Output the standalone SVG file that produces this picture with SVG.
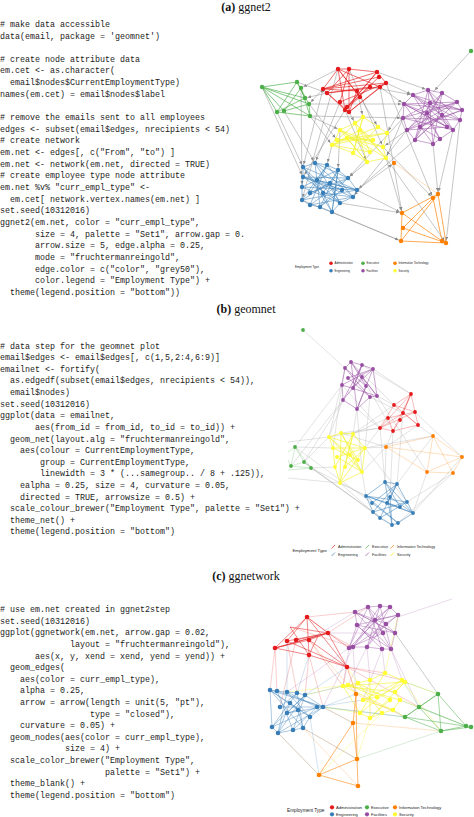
<svg xmlns="http://www.w3.org/2000/svg" width="474" height="817" viewBox="0 0 474 817">
<style>
.code{font-family:"Liberation Mono","DejaVu Sans Mono",monospace;font-size:8.33px;fill:#1a1a1a}
.cap{font-family:"Liberation Serif","DejaVu Serif",serif;font-size:12px;fill:#111}
.lg{font-family:"Liberation Sans",Lato,Arial,sans-serif;fill:#222}
.ga{stroke:#8c8c8c;stroke-width:0.5;fill:none;marker-end:url(#arrG)}
.gb{stroke:#b5b5b5;stroke-width:0.45;fill:none;opacity:0.85}
.ra{stroke:#E41A1C;stroke-width:0.8;fill:none;opacity:0.8}
.ba{stroke:#377EB8;stroke-width:0.7;fill:none;opacity:0.75}
.pa{stroke:#984EA3;stroke-width:0.7;fill:none;opacity:0.75}
.ya{stroke:#F2F230;stroke-width:0.8;fill:none;opacity:0.85}
.oa{stroke:#FF7F00;stroke-width:0.8;fill:none;opacity:0.85}
.na{stroke:#4DAF4A;stroke-width:0.8;fill:none;opacity:0.85}
.thin{stroke-width:0.5;opacity:0.5}
.lt{stroke-width:0.55;opacity:0.4}
.red{fill:#E41A1C}.blue{fill:#377EB8}.grn{fill:#4DAF4A}.pur{fill:#984EA3}.org{fill:#FF7F00}.yel{fill:#FFFF33}
</style>
<defs>
<marker id="arrG" viewBox="0 0 10 10" refX="19" refY="5" markerWidth="3.2" markerHeight="3.2" markerUnits="userSpaceOnUse" orient="auto"><path d="M0 0L10 5L0 10z" fill="#8a8a8a"/></marker>
</defs>
<rect width="474" height="817" fill="#ffffff"/>

<!-- captions -->
<g id="captions">
<text class="cap" x="246" y="10.5" text-anchor="middle"><tspan font-weight="bold">(a)</tspan> ggnet2</text>
<text class="cap" x="246" y="312.5" text-anchor="middle"><tspan font-weight="bold">(b)</tspan> geomnet</text>
<text class="cap" x="246" y="579.5" text-anchor="middle"><tspan font-weight="bold">(c)</tspan> ggnetwork</text>
</g>

<!-- code (a) -->
<g id="code-a" class="code">
<text x="0" y="26.8"># make data accessible</text>
<text x="0" y="38.5">data(email, package = 'geomnet')</text>
<text x="0" y="61.8"># create node attribute data</text>
<text x="0" y="73.4">em.cet &lt;- as.character(</text>
<text x="10" y="85.1">email$nodes$CurrentEmploymentType)</text>
<text x="0" y="96.8">names(em.cet) = email$nodes$label</text>
<text x="0" y="120.1"># remove the emails sent to all employees</text>
<text x="0" y="131.7">edges &lt;- subset(email$edges, nrecipients &lt; 54)</text>
<text x="0" y="143.4"># create network</text>
<text x="0" y="155.1">em.net &lt;- edges[, c("From", "to") ]</text>
<text x="0" y="166.7">em.net &lt;- network(em.net, directed = TRUE)</text>
<text x="0" y="178.4"># create employee type node attribute</text>
<text x="0" y="190.1">em.net %v% "curr_empl_type" &lt;-</text>
<text x="10" y="201.7">em.cet[ network.vertex.names(em.net) ]</text>
<text x="0" y="213.4">set.seed(10312016)</text>
<text x="0" y="225.0">ggnet2(em.net, color = "curr_empl_type",</text>
<text x="35" y="236.7">size = 4, palette = "Set1", arrow.gap = 0.</text>
<text x="35" y="248.4">arrow.size = 5, edge.alpha = 0.25,</text>
<text x="35" y="260.0">mode = "fruchtermanreingold",</text>
<text x="35" y="271.7">edge.color = c("color", "grey50"),</text>
<text x="35" y="283.4">color.legend = "Employment Type") +</text>
<text x="10" y="295.0">theme(legend.position = "bottom"))</text>
</g>

<!-- code (b) -->
<g id="code-b" class="code">
<text x="0" y="348.5"># data step for the geomnet plot</text>
<text x="0" y="360.1">email$edges &lt;- email$edges[, c(1,5,2:4,6:9)]</text>
<text x="0" y="371.7">emailnet &lt;- fortify(</text>
<text x="10" y="383.4">as.edgedf(subset(email$edges, nrecipients &lt; 54)),</text>
<text x="10" y="395.0">email$nodes)</text>
<text x="0" y="406.6">set.seed(10312016)</text>
<text x="0" y="418.2">ggplot(data = emailnet,</text>
<text x="35" y="429.8">aes(from_id = from_id, to_id = to_id)) +</text>
<text x="10" y="441.5">geom_net(layout.alg = "fruchtermanreingold",</text>
<text x="20" y="453.1">aes(colour = CurrentEmploymentType,</text>
<text x="40" y="464.7">group = CurrentEmploymentType,</text>
<text x="40" y="476.3">linewidth = 3 * (...samegroup.. / 8 + .125)),</text>
<text x="20" y="487.9">ealpha = 0.25, size = 4, curvature = 0.05,</text>
<text x="20" y="499.6">directed = TRUE, arrowsize = 0.5) +</text>
<text x="10" y="511.2">scale_colour_brewer("Employment Type", palette = "Set1") +</text>
<text x="10" y="522.8">theme_net() +</text>
<text x="10" y="534.4">theme(legend.position = "bottom")</text>
</g>

<!-- code (c) -->
<g id="code-c" class="code">
<text x="0" y="612.0"># use em.net created in ggnet2step</text>
<text x="0" y="623.6">set.seed(10312016)</text>
<text x="0" y="635.2">ggplot(ggnetwork(em.net, arrow.gap = 0.02,</text>
<text x="70" y="646.9">layout = "fruchtermanreingold"),</text>
<text x="35" y="658.5">aes(x, y, xend = xend, yend = yend)) +</text>
<text x="10" y="670.1">geom_edges(</text>
<text x="20" y="681.7">aes(color = curr_empl_type),</text>
<text x="20" y="693.3">alpha = 0.25,</text>
<text x="20" y="705.0">arrow = arrow(length = unit(5, "pt"),</text>
<text x="90" y="716.6">type = "closed"),</text>
<text x="20" y="728.2">curvature = 0.05) +</text>
<text x="10" y="739.8">geom_nodes(aes(color = curr_empl_type),</text>
<text x="65" y="751.4">size = 4) +</text>
<text x="10" y="763.1">scale_color_brewer("Employment Type",</text>
<text x="105" y="774.7">palette = "Set1") +</text>
<text x="10" y="786.3">theme_blank() +</text>
<text x="10" y="797.9">theme(legend.position = "bottom")</text>
</g>

<!-- ===== plot (a) ggnet2 ===== -->
<g id="plot-a">
<g id="a-connectors">
<path class="ga" d="M471 51L433 92"/>
<path class="ga" d="M323 89L309 104"/>
<path class="ga" d="M338 69L301 88"/>
<path class="ga" d="M327 93L305 98"/>
<path class="ga" d="M386 83L413 95"/>
<path class="ga" d="M380 87L404 104"/>
<path class="ga" d="M377 72L428 90"/>
<path class="ga" d="M349 112L355 123"/>
<path class="ga" d="M360 97L378 127"/>
<path class="ga" d="M357 91L363 117"/>
<path class="ga" d="M323 89L303 167"/>
<path class="ga" d="M340 102L315 163"/>
<path class="ga" d="M345 110L303 177"/>
<path class="ga" d="M380 87L402 213"/>
<path class="ga" d="M310 116L340 130"/>
<path class="ga" d="M309 104L337 140"/>
<path class="ga" d="M309 104L404 104"/>
<path class="ga" d="M310 116L403 118"/>
<path class="ga" d="M277 112L303 167"/>
<path class="ga" d="M284 111L315 163"/>
<path class="ga" d="M262 87L303 177"/>
<path class="ga" d="M301 88L302 187"/>
<path class="ga" d="M404 104L387 133"/>
<path class="ga" d="M407 130L383 147"/>
<path class="ga" d="M403 118L348 178"/>
<path class="ga" d="M415 140L357 190"/>
<path class="ga" d="M433 144L438 194"/>
<path class="ga" d="M453 130L438 194"/>
<path class="ga" d="M460 120L446 243"/>
<path class="ga" d="M332 145L327 165"/>
<path class="ga" d="M367 162L348 178"/>
<path class="ga" d="M386 158L402 213"/>
<path class="ga" d="M383 147L433 198"/>
<path class="ga" d="M340 203L402 213"/>
<path class="ga" d="M332 212L401 241"/>
<path class="ga" d="M357 190L394 163"/>
<path class="ga" d="M357 190L402 213"/>
<path class="ga" d="M345 110L367 162"/>
<path class="ga" d="M349 69L383 147"/>
<path class="ga" d="M386 83L433 198"/>
<path class="ga" d="M302 200L401 241"/>
<path class="ga" d="M407 130L353 197"/>
<path class="ga" d="M370 87L413 95"/>
<path class="ga" d="M386 158L446 243"/>
<path class="ga" d="M338 69L302 200"/>
<path class="ga" d="M297 82L327 93"/>
<path class="ga" d="M403 118L386 158"/>
<path class="ga" d="M340 130L338 170"/>
<path class="ga" d="M310 116L332 145"/>
<path d="M394 163L438 194" stroke="#FF7F00" stroke-width="0.5" opacity="0.5" fill="none"/>
<path class="na" d="M262 87L297 82L309 104L310 116L277 112L262 87L309 104M262 87L310 116M297 82L277 112M284 111L309 104M301 88L284 111M262 87L305 98M301 88L310 116M297 82L305 98M262 87L284 111M277 112L305 98"/>
<path class="ra" d="M323 89L338 69L349 69L377 72L386 83L380 87L349 112L345 110L323 89L377 72M338 69L380 87M338 69L345 110M349 69L349 112M377 72L345 110M379 77L347 107M386 83L340 102M323 89L357 91M327 93L370 87M357 91L349 112M360 97L345 110M370 87L347 107M340 102L349 69M327 93L349 112M379 77L323 89M347 107L377 72M360 97L338 69M386 83L349 112M327 93L380 87M323 89L386 83M338 69L360 97M349 69L327 93"/>
<path class="pa" d="M404 104L413 95L428 90L442 93L457 102L462 110L460 120L453 130L440 139L433 144L415 140L407 130L403 118L404 104M404 104L457 102M404 104L453 130M404 104L433 144M413 95L460 120M413 95L440 139M428 90L453 130M428 90L415 140M442 93L407 130M442 93L433 144M457 102L403 118M457 102L415 140M462 110L407 130M462 110L404 104M460 120L403 118M453 130L403 118M427 113L404 104M427 113L457 102M427 113L440 139M427 113L407 130M442 115L413 95M442 115L460 120M442 115L415 140M420 127L442 93M420 127L462 110M420 127L440 139M447 127L404 104M447 127L428 90M447 127L407 130M430 103L453 130M430 103L415 140M430 103L462 110M430 103L403 118M427 113L447 127M442 115L420 127M413 95L453 130M428 90L433 144M442 93L415 140M457 102L407 130M462 110L413 95M460 120L428 90"/>
<path class="ya" d="M332 145L340 130L355 123L363 117L378 127L387 133L383 147L386 158L367 162L353 153L332 145M332 145L378 127M332 145L387 133M340 130L383 147M340 130L386 158M355 123L367 162M363 117L353 153M378 127L353 153M387 133L337 140M383 147L347 138M386 158L355 123M367 162L340 130M353 153L363 117M347 138L373 140M360 130L370 152M337 140L373 140M360 130L332 145M360 130L386 158M370 152L340 130M347 138L367 162M373 140L355 123M337 140L363 117M370 152L332 145"/>
<path class="ba" d="M303 167L315 163L327 165L338 170L348 178L357 190L353 197L340 203L332 212L320 207L310 205L302 200L302 187L303 177L303 167M303 167L357 190M303 167L340 203M303 167L332 212M315 163L353 197M315 163L320 207M327 165L310 205M327 165L302 200M338 170L302 187M338 170L332 212M348 178L303 177M348 178L310 205M357 190L302 200M353 197L303 177M340 203L315 163M332 212L338 170M320 207L348 178M317 180L357 190M317 180L332 212M330 183L302 200M330 183L340 203M323 193L338 170M323 193L303 167M342 190L303 177M342 190L320 207M310 193L348 178M310 193L327 165M317 180L342 190M330 183L310 193M323 193L353 197M302 187L357 190M303 177L340 203M315 163L348 178M327 165L353 197M338 170L320 207M302 187L340 203M303 177L357 190M310 205L353 197"/>
<path class="oa" d="M402 213L438 194L446 243L401 241L402 213M402 213L442 241M401 241L438 194M403 228L433 198M433 198L442 241M403 228L446 243"/>
</g>
<g id="a-nodes">
<g id="a-executive" class="grn"><circle cx="262" cy="87" r="2.2"/><circle cx="297" cy="82" r="2.2"/><circle cx="301" cy="88" r="2.2"/><circle cx="309" cy="104" r="2.2"/><circle cx="310" cy="116" r="2.2"/><circle cx="277" cy="112" r="2.2"/><circle cx="284" cy="111" r="2.2"/><circle cx="305" cy="98" r="2.2"/><circle cx="471" cy="51" r="2.2"/></g>
<g id="a-administration" class="red"><circle cx="323" cy="89" r="2.2"/><circle cx="327" cy="93" r="2.2"/><circle cx="338" cy="69" r="2.2"/><circle cx="349" cy="69" r="2.2"/><circle cx="377" cy="72" r="2.2"/><circle cx="379" cy="77" r="2.2"/><circle cx="386" cy="83" r="2.2"/><circle cx="380" cy="87" r="2.2"/><circle cx="357" cy="91" r="2.2"/><circle cx="360" cy="97" r="2.2"/><circle cx="345" cy="110" r="2.2"/><circle cx="349" cy="112" r="2.2"/><circle cx="347" cy="107" r="2.2"/><circle cx="340" cy="102" r="2.2"/><circle cx="370" cy="87" r="2.2"/></g>
<g id="a-facilities" class="pur"><circle cx="404" cy="104" r="2.2"/><circle cx="413" cy="95" r="2.2"/><circle cx="428" cy="90" r="2.2"/><circle cx="442" cy="93" r="2.2"/><circle cx="457" cy="102" r="2.2"/><circle cx="462" cy="110" r="2.2"/><circle cx="460" cy="120" r="2.2"/><circle cx="453" cy="130" r="2.2"/><circle cx="440" cy="139" r="2.2"/><circle cx="433" cy="144" r="2.2"/><circle cx="415" cy="140" r="2.2"/><circle cx="407" cy="130" r="2.2"/><circle cx="403" cy="118" r="2.2"/><circle cx="427" cy="113" r="2.2"/><circle cx="442" cy="115" r="2.2"/><circle cx="420" cy="127" r="2.2"/><circle cx="447" cy="127" r="2.2"/><circle cx="430" cy="103" r="2.2"/></g>
<g id="a-security" class="yel"><circle cx="332" cy="145" r="2.2"/><circle cx="340" cy="130" r="2.2"/><circle cx="355" cy="123" r="2.2"/><circle cx="363" cy="117" r="2.2"/><circle cx="378" cy="127" r="2.2"/><circle cx="387" cy="133" r="2.2"/><circle cx="383" cy="147" r="2.2"/><circle cx="386" cy="158" r="2.2"/><circle cx="367" cy="162" r="2.2"/><circle cx="353" cy="153" r="2.2"/><circle cx="347" cy="138" r="2.2"/><circle cx="373" cy="140" r="2.2"/><circle cx="360" cy="130" r="2.2"/><circle cx="337" cy="140" r="2.2"/><circle cx="370" cy="152" r="2.2"/></g>
<g id="a-engineering" class="blue"><circle cx="303" cy="167" r="2.2"/><circle cx="315" cy="163" r="2.2"/><circle cx="327" cy="165" r="2.2"/><circle cx="338" cy="170" r="2.2"/><circle cx="348" cy="178" r="2.2"/><circle cx="357" cy="190" r="2.2"/><circle cx="353" cy="197" r="2.2"/><circle cx="340" cy="203" r="2.2"/><circle cx="332" cy="212" r="2.2"/><circle cx="320" cy="207" r="2.2"/><circle cx="310" cy="205" r="2.2"/><circle cx="302" cy="200" r="2.2"/><circle cx="302" cy="187" r="2.2"/><circle cx="303" cy="177" r="2.2"/><circle cx="317" cy="180" r="2.2"/><circle cx="330" cy="183" r="2.2"/><circle cx="323" cy="193" r="2.2"/><circle cx="342" cy="190" r="2.2"/><circle cx="310" cy="193" r="2.2"/></g>
<g id="a-it" class="org"><circle cx="394" cy="163" r="2.2"/><circle cx="438" cy="194" r="2.2"/><circle cx="433" cy="198" r="2.2"/><circle cx="402" cy="213" r="2.2"/><circle cx="403" cy="228" r="2.2"/><circle cx="401" cy="241" r="2.2"/><circle cx="442" cy="241" r="2.2"/><circle cx="446" cy="243" r="2.2"/></g>
</g>
<g id="a-legend" class="lg" font-size="2.9">
<text x="295" y="268.2" font-size="3">Employment Type</text>
<circle class="red" cx="331" cy="263.3" r="1.8"/><text x="334.5" y="264.3">Administration</text>
<circle class="grn" cx="363" cy="263.3" r="1.8"/><text x="366.5" y="264.3">Executive</text>
<circle class="org" cx="395" cy="263.3" r="1.8"/><text x="398.5" y="264.3">Information Technology</text>
<circle class="blue" cx="331" cy="270.7" r="1.8"/><text x="334.5" y="271.7">Engineering</text>
<circle class="pur" cx="363" cy="270.7" r="1.8"/><text x="366.5" y="271.7">Facilities</text>
<circle class="yel" cx="395" cy="270.7" r="1.8"/><text x="398.5" y="271.7">Security</text>
</g>
</g>

<!-- ===== plot (b) geomnet ===== -->
<g id="plot-b">
<g id="b-connectors">
<path class="gb" d="M303 330L345 368M343 400L329 437M342 385L333 448M357 409L353 434M370 397L365 448M357 409L380 428M377 396L394 405M373 369L411 394M370 397L403 413M342 385L295 447M343 400L304 462M380 428L365 448M393 431L386 447M388 418L353 434M418 425L433 436M415 412L462 457M380 428L341 433M386 447L365 448M386 447L362 472M386 447L385 482M427 472L413 513M433 436L397 484M453 473L407 502M362 472L366 496M340 483L366 496M340 483L373 512M335 467L311 468M333 448L295 447M329 437L304 462M311 468L366 496M304 462L373 512M295 447L372 503M393 431L390 497M403 413L397 484M380 428L385 482M362 377L393 431M345 368L329 437M357 409L362 472M377 396L427 472M386 447L418 425M365 448L433 436M353 434L394 405M362 365L411 394M351 362L394 405M342 385L380 428M311 468L392 525M304 462L380 518M365 448L407 502M341 433L386 447M329 437L380 428M453 473L398 523M462 457L413 513M343 400L291 466M288 442L329 437M288 478L340 483"/>
<path class="pa" d="M351 362L362 365L373 369L377 396L370 397L357 409L343 400L342 385L345 368L351 362M351 362L377 396M351 362L357 409M362 365L343 400M373 369L342 385M373 369L357 409M345 368L370 397M342 385L377 396M353 388L373 369M353 388L362 365M362 377L343 400M362 377L377 396M348 378L370 397M348 378L373 369M366 386L345 368M366 386L357 409M351 362L366 386M362 365L353 388"/>
<path class="ra thin" style="opacity:0.6" d="M411 394L394 405L380 428L393 431L418 425L415 412L411 394M411 394L403 413M411 394L393 431M394 405L415 412M394 405L418 425M380 428L415 412M403 413L380 428M403 413L418 425M400 420L411 394M388 418L415 412M388 418L393 431M400 420L393 431M380 428L411 394"/>
<path class="oa thin" d="M386 447L433 436L462 457L453 473L427 472L433 436M386 447L427 472M433 436L453 473M462 457L427 472M386 447L462 457"/>
<path class="na thin" d="M295 447L304 462L311 468L291 466L295 447M295 447L311 468M304 462L291 466M295 447L288 452M291 466L288 460M311 468L288 470"/>
<path class="ya" d="M329 437L341 433L353 434L365 448L362 472L340 483L335 467L333 448L329 437M329 437L365 448M329 437L362 472M341 433L362 472M341 433L340 483M353 434L335 467M353 434L340 483M365 448L333 448M365 448L340 483M350 455L329 437M350 455L362 472M358 460L333 448M358 460L341 433M345 467L353 434M337 457L365 448M337 457L362 472M345 467L365 448"/>
<path class="ba" d="M366 496L385 482L397 484L407 502L413 513L398 523L392 525L380 518L373 512L366 496M366 496L413 513M366 496L398 523M385 482L392 525M385 482L413 513M397 484L380 518M397 484L372 503M407 502L373 512M407 502L366 496M390 497L392 525M390 497L413 513M400 507L366 496M400 507L385 482M387 503L397 484M387 503L413 513M372 503L398 523M380 518L407 502M373 512L397 484"/>
</g>
<g id="b-nodes">
<g id="b-facilities" class="pur"><circle cx="351" cy="362" r="1.9"/><circle cx="362" cy="365" r="1.9"/><circle cx="373" cy="369" r="1.9"/><circle cx="345" cy="368" r="1.9"/><circle cx="342" cy="385" r="1.9"/><circle cx="343" cy="400" r="1.9"/><circle cx="357" cy="409" r="1.9"/><circle cx="370" cy="397" r="1.9"/><circle cx="377" cy="396" r="1.9"/><circle cx="353" cy="388" r="1.9"/><circle cx="362" cy="377" r="1.9"/><circle cx="348" cy="378" r="1.9"/><circle cx="366" cy="386" r="1.9"/></g>
<g id="b-administration" class="red"><circle cx="411" cy="394" r="1.9"/><circle cx="394" cy="405" r="1.9"/><circle cx="415" cy="412" r="1.9"/><circle cx="403" cy="413" r="1.9"/><circle cx="380" cy="428" r="1.9"/><circle cx="393" cy="431" r="1.9"/><circle cx="418" cy="425" r="1.9"/><circle cx="400" cy="420" r="1.9"/><circle cx="388" cy="418" r="1.9"/></g>
<g id="b-it" class="org"><circle cx="386" cy="447" r="1.9"/><circle cx="433" cy="436" r="1.9"/><circle cx="462" cy="457" r="1.9"/><circle cx="453" cy="473" r="1.9"/><circle cx="427" cy="472" r="1.9"/></g>
<g id="b-executive" class="grn"><circle cx="303" cy="330" r="1.9"/><circle cx="295" cy="447" r="1.9"/><circle cx="304" cy="462" r="1.9"/><circle cx="311" cy="468" r="1.9"/><circle cx="291" cy="466" r="1.9"/></g>
<g id="b-security" class="yel"><circle cx="329" cy="437" r="1.9"/><circle cx="341" cy="433" r="1.9"/><circle cx="353" cy="434" r="1.9"/><circle cx="365" cy="448" r="1.9"/><circle cx="362" cy="472" r="1.9"/><circle cx="340" cy="483" r="1.9"/><circle cx="335" cy="467" r="1.9"/><circle cx="333" cy="448" r="1.9"/><circle cx="345" cy="467" r="1.9"/><circle cx="350" cy="455" r="1.9"/><circle cx="358" cy="460" r="1.9"/><circle cx="337" cy="457" r="1.9"/></g>
<g id="b-engineering" class="blue"><circle cx="366" cy="496" r="1.9"/><circle cx="372" cy="503" r="1.9"/><circle cx="385" cy="482" r="1.9"/><circle cx="397" cy="484" r="1.9"/><circle cx="407" cy="502" r="1.9"/><circle cx="413" cy="513" r="1.9"/><circle cx="398" cy="523" r="1.9"/><circle cx="392" cy="525" r="1.9"/><circle cx="380" cy="518" r="1.9"/><circle cx="373" cy="512" r="1.9"/><circle cx="390" cy="497" r="1.9"/><circle cx="400" cy="507" r="1.9"/><circle cx="387" cy="503" r="1.9"/></g>
</g>
<g id="b-legend" class="lg" font-size="3.7">
<text x="292.5" y="552.2" font-size="4.3">Employment Type</text>
<path d="M331.5 548.5L335 545" stroke="#E41A1C" stroke-width="0.7"/><text x="338" y="548">Administration</text>
<path d="M365.5 548.5L369 545" stroke="#4DAF4A" stroke-width="0.7"/><text x="372" y="548">Executive</text>
<path d="M390.5 548.5L394 545" stroke="#FF7F00" stroke-width="0.7"/><text x="397" y="548">Information Technology</text>
<path d="M331.5 556L335 552.5" stroke="#377EB8" stroke-width="0.7"/><text x="338" y="555.5">Engineering</text>
<path d="M365.5 556L369 552.5" stroke="#984EA3" stroke-width="0.7"/><text x="372" y="555.5">Facilities</text>
<path d="M390.5 556L394 552.5" stroke="#F2F230" stroke-width="0.9"/><text x="397" y="555.5">Security</text>
</g>
</g>

<!-- ===== plot (c) ggnetwork ===== -->
<g id="plot-c">
<g id="c-connectors">
<path class="ra lt" d="M307 617L355 612M328 633L353 647M347 667L343 686M347 667L356 694M347 667L385 673M275 648L277 691M287 641L297 693M309 655L305 695M309 655L323 707M347 667L419 707M328 633L349 648M307 617L349 648M275 648L270 690M347 667L402 680M309 640L343 686M290 627L353 647M296 640L280 707M328 633L368 607"/>
<path class="ra" style="opacity:0.65" d="M307 617L328 633L347 667L309 655L275 648L307 617M307 617L309 655M307 617L287 641M328 633L275 648M328 633L309 640M309 640L347 667M287 641L347 667M296 640L328 633M318 636L275 648M318 636L309 655M290 627L328 633M290 627L309 655M309 640L275 648M287 641L328 633M307 617L347 667"/>
<path class="pa lt" d="M349 648L343 686M367 647L370 680M382 649L385 673M391 649L402 680M353 647L356 694M395 633L438 694M398 617L452 599M349 648L287 692M353 647L323 707M383 633L328 633M355 612L309 640M391 649L419 707M382 649L363 700M367 647L348 685"/>
<path class="pa" style="opacity:0.6" d="M355 612L368 607L380 606L390 607L398 615L395 633L391 649L382 649L367 647L353 647L349 648L357 625L355 612M355 612L391 649M355 612L395 633M368 607L382 649M368 607L349 648M380 606L367 647M380 606L353 647M390 607L349 648M398 615L353 647M398 615L357 625M395 633L355 612M383 633L368 607M383 633L349 648M375 620L391 649M375 620L353 647M362 630L390 607M362 630L391 649M386 624L367 647M386 624L355 612M370 638L398 615M370 638L357 625M357 625L395 633M375 620L398 615M368 607L395 633M380 606L391 649M390 607L367 647M357 625L382 649"/>
<path class="ya lt" style="opacity:0.6" d="M343 686L305 695M360 713L323 707M405 682L438 694M400 700L419 707M393 710L405 717M385 673L398 615M370 718L357 759M402 680L441 731M382 713L319 775M358 683L347 667M348 685L287 692"/>
<path class="ya" style="opacity:0.75" d="M343 686L348 685L358 683L370 680L385 673L402 680L405 682L395 692L400 700L393 710L382 713L370 718L360 713L343 686M343 686L405 682M343 686L393 710M348 685L400 700M358 683L382 713M370 680L370 718M385 673L360 713M402 680L360 713M405 682L370 718M395 692L343 686M363 700L402 680M363 700L393 710M377 697L348 685M377 697L405 682M390 700L358 683M390 700L370 718M377 697L363 700"/>
<path class="ba lt" d="M323 707L356 694M323 707L353 723M323 707L405 717M310 717L319 775M303 728L357 759M305 695L343 686M297 693L309 655M287 692L287 641M278 733L319 775M317 707L363 700M305 695L347 667"/>
<path class="ba" style="opacity:0.6" d="M270 690L277 691L287 692L297 693L305 695L323 707L310 717L303 728L293 730L278 733L272 727L270 690M270 690L310 717M270 690L303 728M277 691L323 707M277 691L293 730M287 692L310 717M287 692L278 733M297 693L272 727M297 693L303 728M305 695L278 733M305 695L272 727M323 707L270 690M323 707L278 733M287 713L305 695M287 713L323 707M298 710L270 690M298 710L303 728M280 707L317 707M280 707L297 693M290 703L310 717M290 703L278 733M317 707L287 692M317 707L293 730M287 713L298 710M272 727L317 707M293 730L305 695"/>
<path class="oa lt" d="M356 694L405 717M356 694L309 640M353 723L323 707M357 759L303 728M319 775L278 733M356 694L347 667M353 723L441 731M358 786L303 728"/>
<path class="oa" style="opacity:0.7" d="M356 694L353 723L357 759L358 786L319 775L353 723M356 694L357 759M319 775L357 759"/>
<path class="na lt" d="M405 717L393 710M419 707L402 680M438 694L395 633M405 717L323 707M441 731L357 759M466 726L400 700M438 694L405 682"/>
<path class="na" style="opacity:0.65" d="M438 694L419 707L405 717L441 731L466 726L438 694M438 694L405 717M438 694L441 731M419 707L441 731M419 707L466 726M405 717L471 727M441 731L471 727"/>
</g>
<g id="c-nodes">
<g id="c-administration" class="red"><circle cx="307" cy="617" r="2.3"/><circle cx="328" cy="633" r="2.3"/><circle cx="309" cy="640" r="2.3"/><circle cx="287" cy="641" r="2.3"/><circle cx="275" cy="648" r="2.3"/><circle cx="309" cy="655" r="2.3"/><circle cx="347" cy="667" r="2.3"/><circle cx="296" cy="640" r="2.3"/></g>
<g id="c-facilities" class="pur"><circle cx="355" cy="612" r="2.3"/><circle cx="368" cy="607" r="2.3"/><circle cx="380" cy="606" r="2.3"/><circle cx="390" cy="607" r="2.3"/><circle cx="398" cy="615" r="2.3"/><circle cx="395" cy="633" r="2.3"/><circle cx="383" cy="633" r="2.3"/><circle cx="391" cy="649" r="2.3"/><circle cx="382" cy="649" r="2.3"/><circle cx="367" cy="647" r="2.3"/><circle cx="353" cy="647" r="2.3"/><circle cx="349" cy="648" r="2.3"/><circle cx="357" cy="625" r="2.3"/><circle cx="375" cy="620" r="2.3"/><circle cx="386" cy="624" r="2.3"/></g>
<g id="c-security" class="yel"><circle cx="343" cy="686" r="2.3"/><circle cx="348" cy="685" r="2.3"/><circle cx="358" cy="683" r="2.3"/><circle cx="370" cy="680" r="2.3"/><circle cx="385" cy="673" r="2.3"/><circle cx="402" cy="680" r="2.3"/><circle cx="405" cy="682" r="2.3"/><circle cx="395" cy="692" r="2.3"/><circle cx="400" cy="700" r="2.3"/><circle cx="393" cy="710" r="2.3"/><circle cx="382" cy="713" r="2.3"/><circle cx="370" cy="718" r="2.3"/><circle cx="360" cy="713" r="2.3"/><circle cx="363" cy="700" r="2.3"/><circle cx="377" cy="697" r="2.3"/><circle cx="390" cy="700" r="2.3"/></g>
<g id="c-engineering" class="blue"><circle cx="270" cy="690" r="2.3"/><circle cx="277" cy="691" r="2.3"/><circle cx="287" cy="692" r="2.3"/><circle cx="297" cy="693" r="2.3"/><circle cx="305" cy="695" r="2.3"/><circle cx="323" cy="707" r="2.3"/><circle cx="310" cy="717" r="2.3"/><circle cx="303" cy="728" r="2.3"/><circle cx="293" cy="730" r="2.3"/><circle cx="278" cy="733" r="2.3"/><circle cx="272" cy="727" r="2.3"/><circle cx="287" cy="713" r="2.3"/><circle cx="298" cy="710" r="2.3"/><circle cx="280" cy="707" r="2.3"/><circle cx="290" cy="703" r="2.3"/><circle cx="317" cy="707" r="2.3"/></g>
<g id="c-it" class="org"><circle cx="356" cy="694" r="2.3"/><circle cx="353" cy="723" r="2.3"/><circle cx="357" cy="759" r="2.3"/><circle cx="319" cy="775" r="2.3"/><circle cx="358" cy="786" r="2.3"/></g>
<g id="c-executive" class="grn"><circle cx="438" cy="694" r="2.3"/><circle cx="419" cy="707" r="2.3"/><circle cx="405" cy="717" r="2.3"/><circle cx="441" cy="731" r="2.3"/><circle cx="466" cy="726" r="2.3"/><circle cx="471" cy="727" r="2.3"/></g>
</g>
<g id="c-legend" class="lg" font-size="4.1">
<text x="287" y="812.3" font-size="4.7">Employment Type</text>
<circle class="red" cx="332" cy="807.3" r="2.1"/><text x="336" y="808.7">Administration</text>
<circle class="grn" cx="367" cy="807.3" r="2.1"/><text x="371" y="808.7">Executive</text>
<circle class="org" cx="395" cy="807.3" r="2.1"/><text x="399" y="808.7">Information Technology</text>
<circle class="blue" cx="332" cy="814.3" r="2.1"/><text x="336" y="815.7">Engineering</text>
<circle class="pur" cx="367" cy="814.3" r="2.1"/><text x="371" y="815.7">Facilities</text>
<circle class="yel" cx="395" cy="814.3" r="2.1"/><text x="399" y="815.7">Security</text>
</g>
</g>
</svg>
